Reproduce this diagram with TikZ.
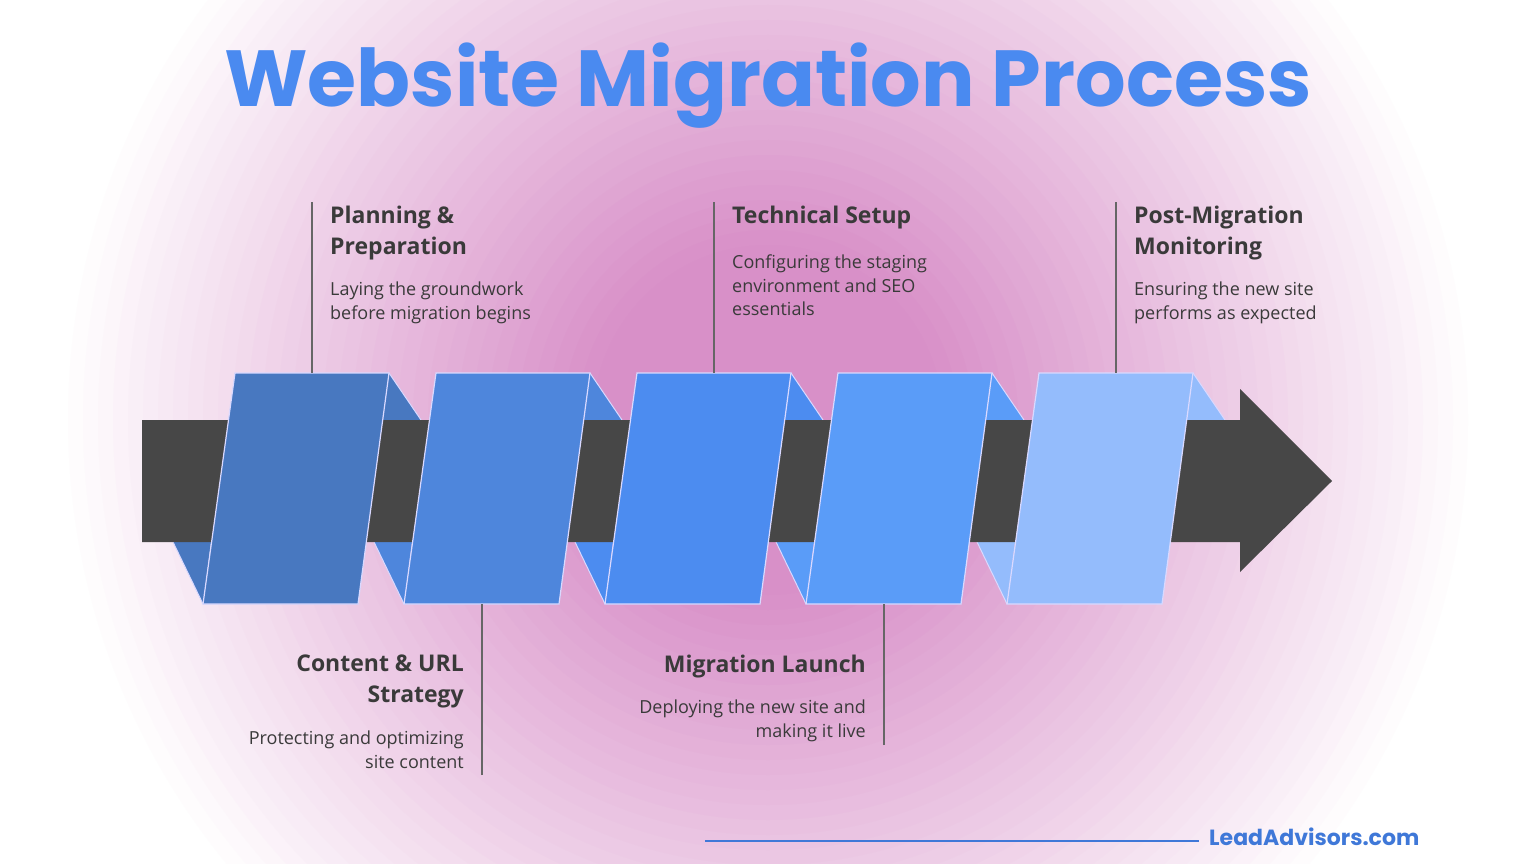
\documentclass[tikz,border=0pt]{standalone}
\usepackage{fontspec}
\setmainfont{Open Sans}
\newfontfamily\titlefont{Poppins}
\usetikzlibrary{shapes.geometric}
\definecolor{bgc}{HTML}{D890C8}
\definecolor{barc}{HTML}{474747}
\definecolor{pa}{HTML}{4878C0}
\definecolor{pb}{HTML}{4E86DC}
\definecolor{pc}{HTML}{4C8CF0}
\definecolor{pd}{HTML}{5A9CF8}
\definecolor{pe}{HTML}{94BCFC}
\definecolor{titc}{HTML}{4A8AF0}
\definecolor{txt}{HTML}{3A3A3A}
\definecolor{linec}{HTML}{3F78D8}
\begin{document}
\begin{tikzpicture}[x=1pt,y=-1pt,
  head/.style={font=\fontsize{23}{31}\selectfont\bfseries, text=txt, inner sep=0pt},
  body/.style={font=\fontsize{18}{23.5}\selectfont, text=txt, inner sep=0pt},
  lead/.style={draw=gray!80!black, line width=1.2pt},
  panel/.style={draw=white!85!blue, line width=1.2pt}]
\useasboundingbox (0,0) rectangle (1536,864);
\fill[white] (0,0) rectangle (1536,864);
\begin{scope}
\clip (0,0) rectangle (1536,864);
\foreach \i in {0,...,40}{
  \pgfmathsetmacro\r{700-\i*15}
  \pgfmathsetmacro\m{min(100,\i*2.8+3)}
  \fill[bgc!\m!white] (768,420) circle (\r);
}
\end{scope}
\node[font=\titlefont\fontsize{79.5}{82}\selectfont\bfseries, text=titc] (title) at (768,86) {Website Migration Process};
% flaps
\foreach \x/\c in {0/pa,201/pb,402/pc,603/pd,804/pe}{
  \fill[\c] ({389+\x},373) -- ({421+\x},420) -- ({382+\x},420) -- cycle;
  \fill[\c] ({203+\x},604) -- ({173+\x},542) -- ({211+\x},542) -- cycle;
  \draw[white!85!blue, line width=1pt] ({389+\x},373) -- ({421+\x},420);
  \draw[white!85!blue, line width=1pt] ({203+\x},604) -- ({173+\x},542);
}
% bar and arrow
\fill[barc] (142,420) -- (1240,420) -- (1240,389) -- (1332,481) -- (1240,572) -- (1240,542) -- (142,542) -- cycle;
% panels
\foreach \x/\c/\n in {0/pa/p1,201/pb/p2,402/pc/p3,603/pd/p4,804/pe/p5}{
  \filldraw[\c, panel] ({235+\x},373) -- ({389+\x},373) -- ({358+\x},604) -- ({203+\x},604) -- cycle;
  \coordinate (\n t) at ({312+\x},373);
  \coordinate (\n b) at ({280+\x},604);
}
% leaders
\coordinate (l1) at (312,202); \coordinate (l3) at (714,202); \coordinate (l5) at (1116,202);
\coordinate (l2) at (482,775); \coordinate (l4) at (884,745);
\draw[lead] (l1) -- (p1t);
\draw[lead] (l3) -- (p3t);
\draw[lead] (l5) -- (p5t);
\draw[lead] (l2) -- (482,604);
\draw[lead] (l4) -- (884,604);
% texts
\node[head, anchor=north west, align=left] (h1) at (330,206) {Planning \&\\Preparation};
\node[body, anchor=north west, align=left] (b1) at (330,282) {Laying the groundwork\\before migration begins};
\node[head, anchor=north west, align=left] (h3) at (732,206) {Technical Setup};
\node[body, anchor=north west, align=left] (b3) at (732,255) {Configuring the staging\\environment and SEO\\essentials};
\node[head, anchor=north west, align=left] (h5) at (1134,206) {Post-Migration\\Monitoring};
\node[body, anchor=north west, align=left] (b5) at (1134,282) {Ensuring the new site\\performs as expected};
\node[head, anchor=north east, align=right] (h2) at (464,655) {Content \& URL\\Strategy};
\node[body, anchor=north east, align=right] (b2) at (464,731) {Protecting and optimizing\\site content};
\node[head, anchor=north east, align=right] (h4) at (866,655) {Migration Launch};
\node[body, anchor=north east, align=right] (b4) at (866,700) {Deploying the new site and\\making it live};
% logo
\node[font=\titlefont\fontsize{22}{24}\selectfont\bfseries, text=linec, anchor=west, inner sep=0pt] (logo) at (1209,837) {LeadAdvisors.com};
\coordinate (ls) at (705,841);
\draw[linec, line width=1.5pt] (ls) -- ([xshift=-10pt]logo.west |- ls);
\end{tikzpicture}
\end{document}
